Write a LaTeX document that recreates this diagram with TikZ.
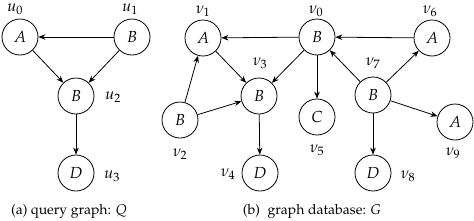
\documentclass[tikz,border=0pt]{standalone}
\usepackage[T1]{fontenc}
\usepackage{mathpazo}
\usetikzlibrary{arrows.meta}
\begin{document}
\begin{tikzpicture}[x=1pt,y=-1pt,
  vtx/.style={draw,circle,line width=0.8pt,minimum size=36pt,inner sep=0pt,font=\fontsize{16}{18}\selectfont},
  lbl/.style={inner sep=0pt,font=\fontsize{16}{18}\selectfont},
  captxt/.style={inner sep=0pt,font=\fontencoding{T1}\fontfamily{ppl}\fontsize{14}{16}\selectfont},
  arr/.style={line width=0.8pt,-{Stealth[length=7pt,width=5.5pt]}}]
\useasboundingbox (0,0) rectangle (474,220);
% query graph
\node[vtx] (u0) at (20,37) {$A$};
\node[vtx] (u1) at (132,37) {$B$};
\node[vtx] (u2) at (76,96) {$B$};
\node[vtx] (u3) at (76,173) {$D$};
\node[lbl] (lu0) at (15,9) {$u_0$};
\node[lbl] (lu1) at (130,9) {$u_1$};
\node[lbl] (lu2) at (113,97) {$u_2$};
\node[lbl] (lu3) at (112,176) {$u_3$};
\draw[arr] (u1) -- (u0);
\draw[arr] (u0) -- (u2);
\draw[arr] (u1) -- (u2);
\draw[arr] (u2) -- (u3);
% graph database
\node[vtx] (v1) at (203,38) {$A$};
\node[vtx] (v0) at (317,37) {$B$};
\node[vtx] (v3) at (259,96) {$B$};
\node[vtx] (v2) at (180,120) {$B$};
\node[vtx] (v4) at (260,173) {$D$};
\node[vtx] (v5) at (317,117) {$C$};
\node[vtx] (v6) at (432,38) {$A$};
\node[vtx] (v7) at (373,95) {$B$};
\node[vtx] (v9) at (455,122) {$A$};
\node[vtx] (v8) at (373,173) {$D$};
\node[lbl] (lv1) at (203,11) {$\nu_1$};
\node[lbl] (lv0) at (316,11) {$\nu_0$};
\node[lbl] (lv3) at (260,63) {$\nu_3$};
\node[lbl] (lv2) at (180,154) {$\nu_2$};
\node[lbl] (lv4) at (228,174) {$\nu_4$};
\node[lbl] (lv5) at (317,150) {$\nu_5$};
\node[lbl] (lv6) at (430,11) {$\nu_6$};
\node[lbl] (lv7) at (373,63) {$\nu_7$};
\node[lbl] (lv9) at (453,153) {$\nu_9$};
\node[lbl] (lv8) at (408,176) {$\nu_8$};
\draw[arr] (v0) -- (v1);
\draw[arr] (v1) -- (v3);
\draw[arr] (v0) -- (v3);
\draw[arr] (v2) -- (v1);
\draw[arr] (v2) -- (v3);
\draw[arr] (v3) -- (v4);
\draw[arr] (v0) -- (v5);
\draw[arr] (v6) -- (v0);
\draw[arr] (v7) -- (v0);
\draw[arr] (v7) -- (v6);
\draw[arr] (v7) -- (v9);
\draw[arr] (v7) -- (v8);
% captions
\node[captxt] (ca) at (69,211) {(a) query graph: $Q$};
\node[captxt] (cb) at (312,211) {(b)\hspace{0.3em} graph database: $G$};
\end{tikzpicture}
\end{document}
